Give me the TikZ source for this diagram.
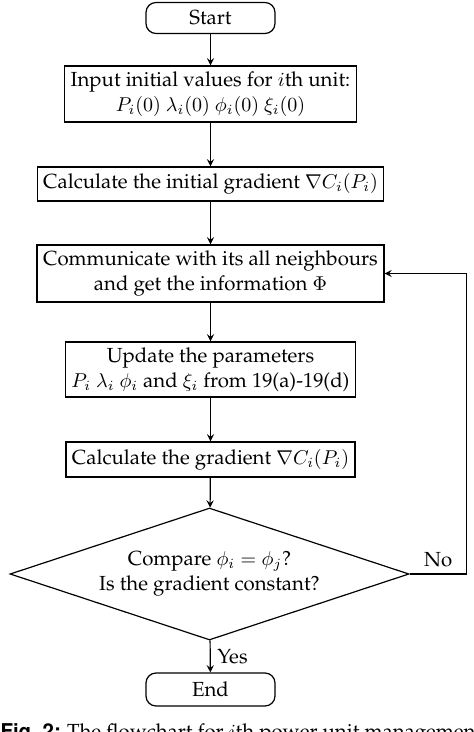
\documentclass[tikz,border=0pt]{standalone}
\usepackage[T1]{fontenc}
\usepackage{palatino}
\usetikzlibrary{shapes,arrows,positioning,calc}

\begin{document}
\begin{tikzpicture}[
    x=1pt, y=1pt,
    line width=0.6pt,
    font=\fontsize{10.2}{12.5}\selectfont,
    term/.style={rectangle, draw, rounded corners=5pt, minimum width=64.5pt, minimum height=15.5pt, inner ysep=1pt},
    proc/.style={rectangle, draw, align=center, inner xsep=3pt, inner ysep=1pt, minimum height=17pt},
    decision/.style={diamond, draw, align=center, aspect=3, minimum width=199.5pt, minimum height=66pt, inner sep=0pt},
    arrow/.style={->, >=stealth}
]
    \useasboundingbox (0,0) rectangle (237,-366);
    \clip (0,0) rectangle (237,-366);

    \node[term] (start) at (105.25,-9) {Start};
    \node[proc, minimum height=28pt] (init) at (105.25,-47) {Input initial values for $i$th unit:\\$P_i(0)\ \lambda_i(0)\ \phi_i(0)\ \xi_i(0)$};
    \node[proc] (grad0) at (105.25,-92) {Calculate the initial gradient $\nabla C_i(P_i)$};
    \node[proc, minimum height=28.5pt] (comm) at (105.25,-136.75) {Communicate with its all neighbours\\and get the information $\Phi$};
    \node[proc, minimum height=27.5pt] (update) at (105.25,-184.75) {Update the parameters\\$P_i\ \lambda_i\ \phi_i$ and $\xi_i$ from 19(a)-19(d)};
    \node[proc, minimum height=17.5pt] (grad) at (105.25,-229.75) {Calculate the gradient $\nabla C_i(P_i)$};
    \node[decision] (check) at (104.75,-287) {Compare $\phi_i = \phi_j$?\\Is the gradient constant?};
    \node[term, minimum height=16.5pt] (stop) at (105.25,-344.75) {End};
    \coordinate[right=28.5pt of check.east] (back);

    \draw[arrow] (start) -- (init);
    \draw[arrow] (init) -- (grad0);
    \draw[arrow] (grad0) -- (comm);
    \draw[arrow] (comm) -- (update);
    \draw[arrow] (update) -- (grad);
    \draw[arrow] (grad) -- (check);
    \draw[arrow] (check) -- (stop) node[midway, right] {Yes};
    \draw[arrow] (check.east) -- (back) node[midway, above] {No} |- (comm.east);

    \node[anchor=base west, inner sep=0pt] (caption) at (0,-369) {{\sffamily\bfseries Fig.~2:} The flowchart for $i$th power unit management};
\end{tikzpicture}
\end{document}
